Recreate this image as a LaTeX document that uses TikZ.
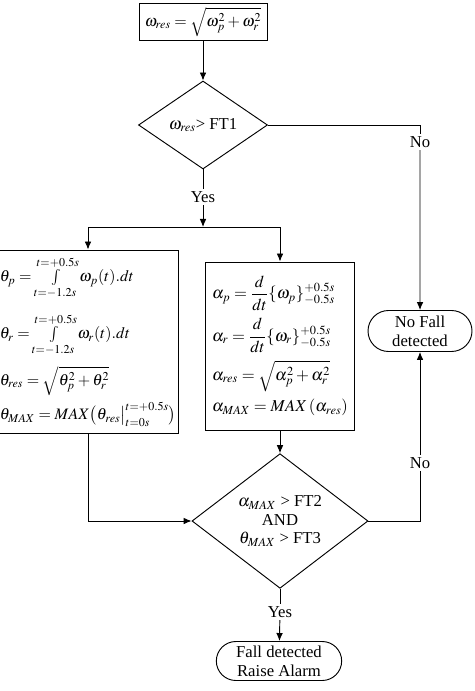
\documentclass[tikz,border=0pt]{standalone}
\usepackage{mathptmx}
\usepackage{fontspec}
\setmainfont{Liberation Serif}
\usetikzlibrary{shapes.geometric,shapes.misc,arrows.meta}

\begin{document}
\begin{tikzpicture}[
  x=0.75pt, y=-0.75pt,
  >={Latex[length=6pt,width=5pt]},
  line width=0.7pt,
  every node/.style={font=\fontsize{12.5}{14}\selectfont},
  box/.style={draw, rectangle, inner sep=2pt, align=left},
  decision/.style={draw, diamond, inner sep=0pt, align=center},
  term/.style={draw, rounded rectangle, inner sep=1pt, align=center},
  lbl/.style={inner sep=1.5pt}
]
  \useasboundingbox (0,0) rectangle (474,691);

  % nodes
  \node[box, minimum width=96pt, minimum height=27.75pt, inner sep=1pt,
        font=\fontsize{12}{14}\selectfont] (wres) at (203,22)
    {\(\omega_{res} = \sqrt{\omega_p^2+\omega_r^2}\)};
  \node[decision, minimum width=96.75pt, minimum height=66pt] (ft1) at (203,125)
    {\(\omega_{res}\)> FT1};
  \node[box, minimum width=129pt, minimum height=137.25pt, inner sep=1.5pt,
        font=\fontsize{12}{14}\selectfont] (theta) at (88,341.5)
    {\(\theta_p = \int\limits_{t=-1.2s}^{t=+0.5s}\omega_p(t).dt\)\\[10pt]
     \(\theta_r = \int\limits_{t=-1.2s}^{t=+0.5s}\omega_r(t).dt\)\\[7pt]
     \(\theta_{res} = \sqrt{\theta_p^2+\theta_r^2}\)\\[4pt]
     \(\theta_{MAX} = MAX\bigl(\theta_{res}\big|_{t=0s}^{t=+0.5s}\bigr)\)};
  \node[box, minimum width=111.75pt, minimum height=126pt] (alpha) at (280,346)
    {\(\displaystyle\alpha_p = \frac{d}{dt}\{\omega_p\}_{-0.5s}^{+0.5s}\)\\[5pt]
     \(\displaystyle\alpha_r = \frac{d}{dt}\{\omega_r\}_{-0.5s}^{+0.5s}\)\\[5pt]
     \(\alpha_{res} = \sqrt{\alpha_p^2+\alpha_r^2}\)\\[5pt]
     \(\alpha_{MAX} = MAX\,(\alpha_{res})\)};
  \node[decision, minimum width=132pt, minimum height=95.25pt] (ft23) at (280,521)
    {\(\alpha_{MAX}\) > FT2\\AND\\\(\theta_{MAX}\) > FT3};
  \node[term, minimum width=80pt, minimum height=30.75pt] (nofall) at (420,331)
    {No Fall\\detected};
  \node[term, minimum width=96pt, minimum height=29.25pt] (alarm) at (279,661)
    {Fall detected\\Raise Alarm};

  % branch labels
  \node[lbl] (no1) at (420,142) {No};
  \node[lbl] (yes1) at (203,197) {Yes};
  \node[lbl] (no2) at (420,463) {No};
  \node[lbl] (yes2) at (280,612) {Yes};
  \coordinate (split) at (203,227);

  % connectors
  \draw[->] (wres) -- (ft1);
  \draw (ft1.east) -| (no1);
  \draw[->] (no1) -- (nofall);
  \draw (ft1.south) -- (yes1);
  \draw[->] (yes1) -- (split);
  \draw[->] (split) -| (theta.north);
  \draw[->] (split) -| (alpha.north);
  \draw[->] (theta.south) |- (ft23.west);
  \draw[->] (alpha.south) -- (ft23.north);
  \draw (ft23.east) -| (no2);
  \draw[->] (no2) -- (nofall.south);
  \draw (ft23.south) -- (yes2);
  \draw[->] (yes2) -- (alarm);
\end{tikzpicture}
\end{document}
